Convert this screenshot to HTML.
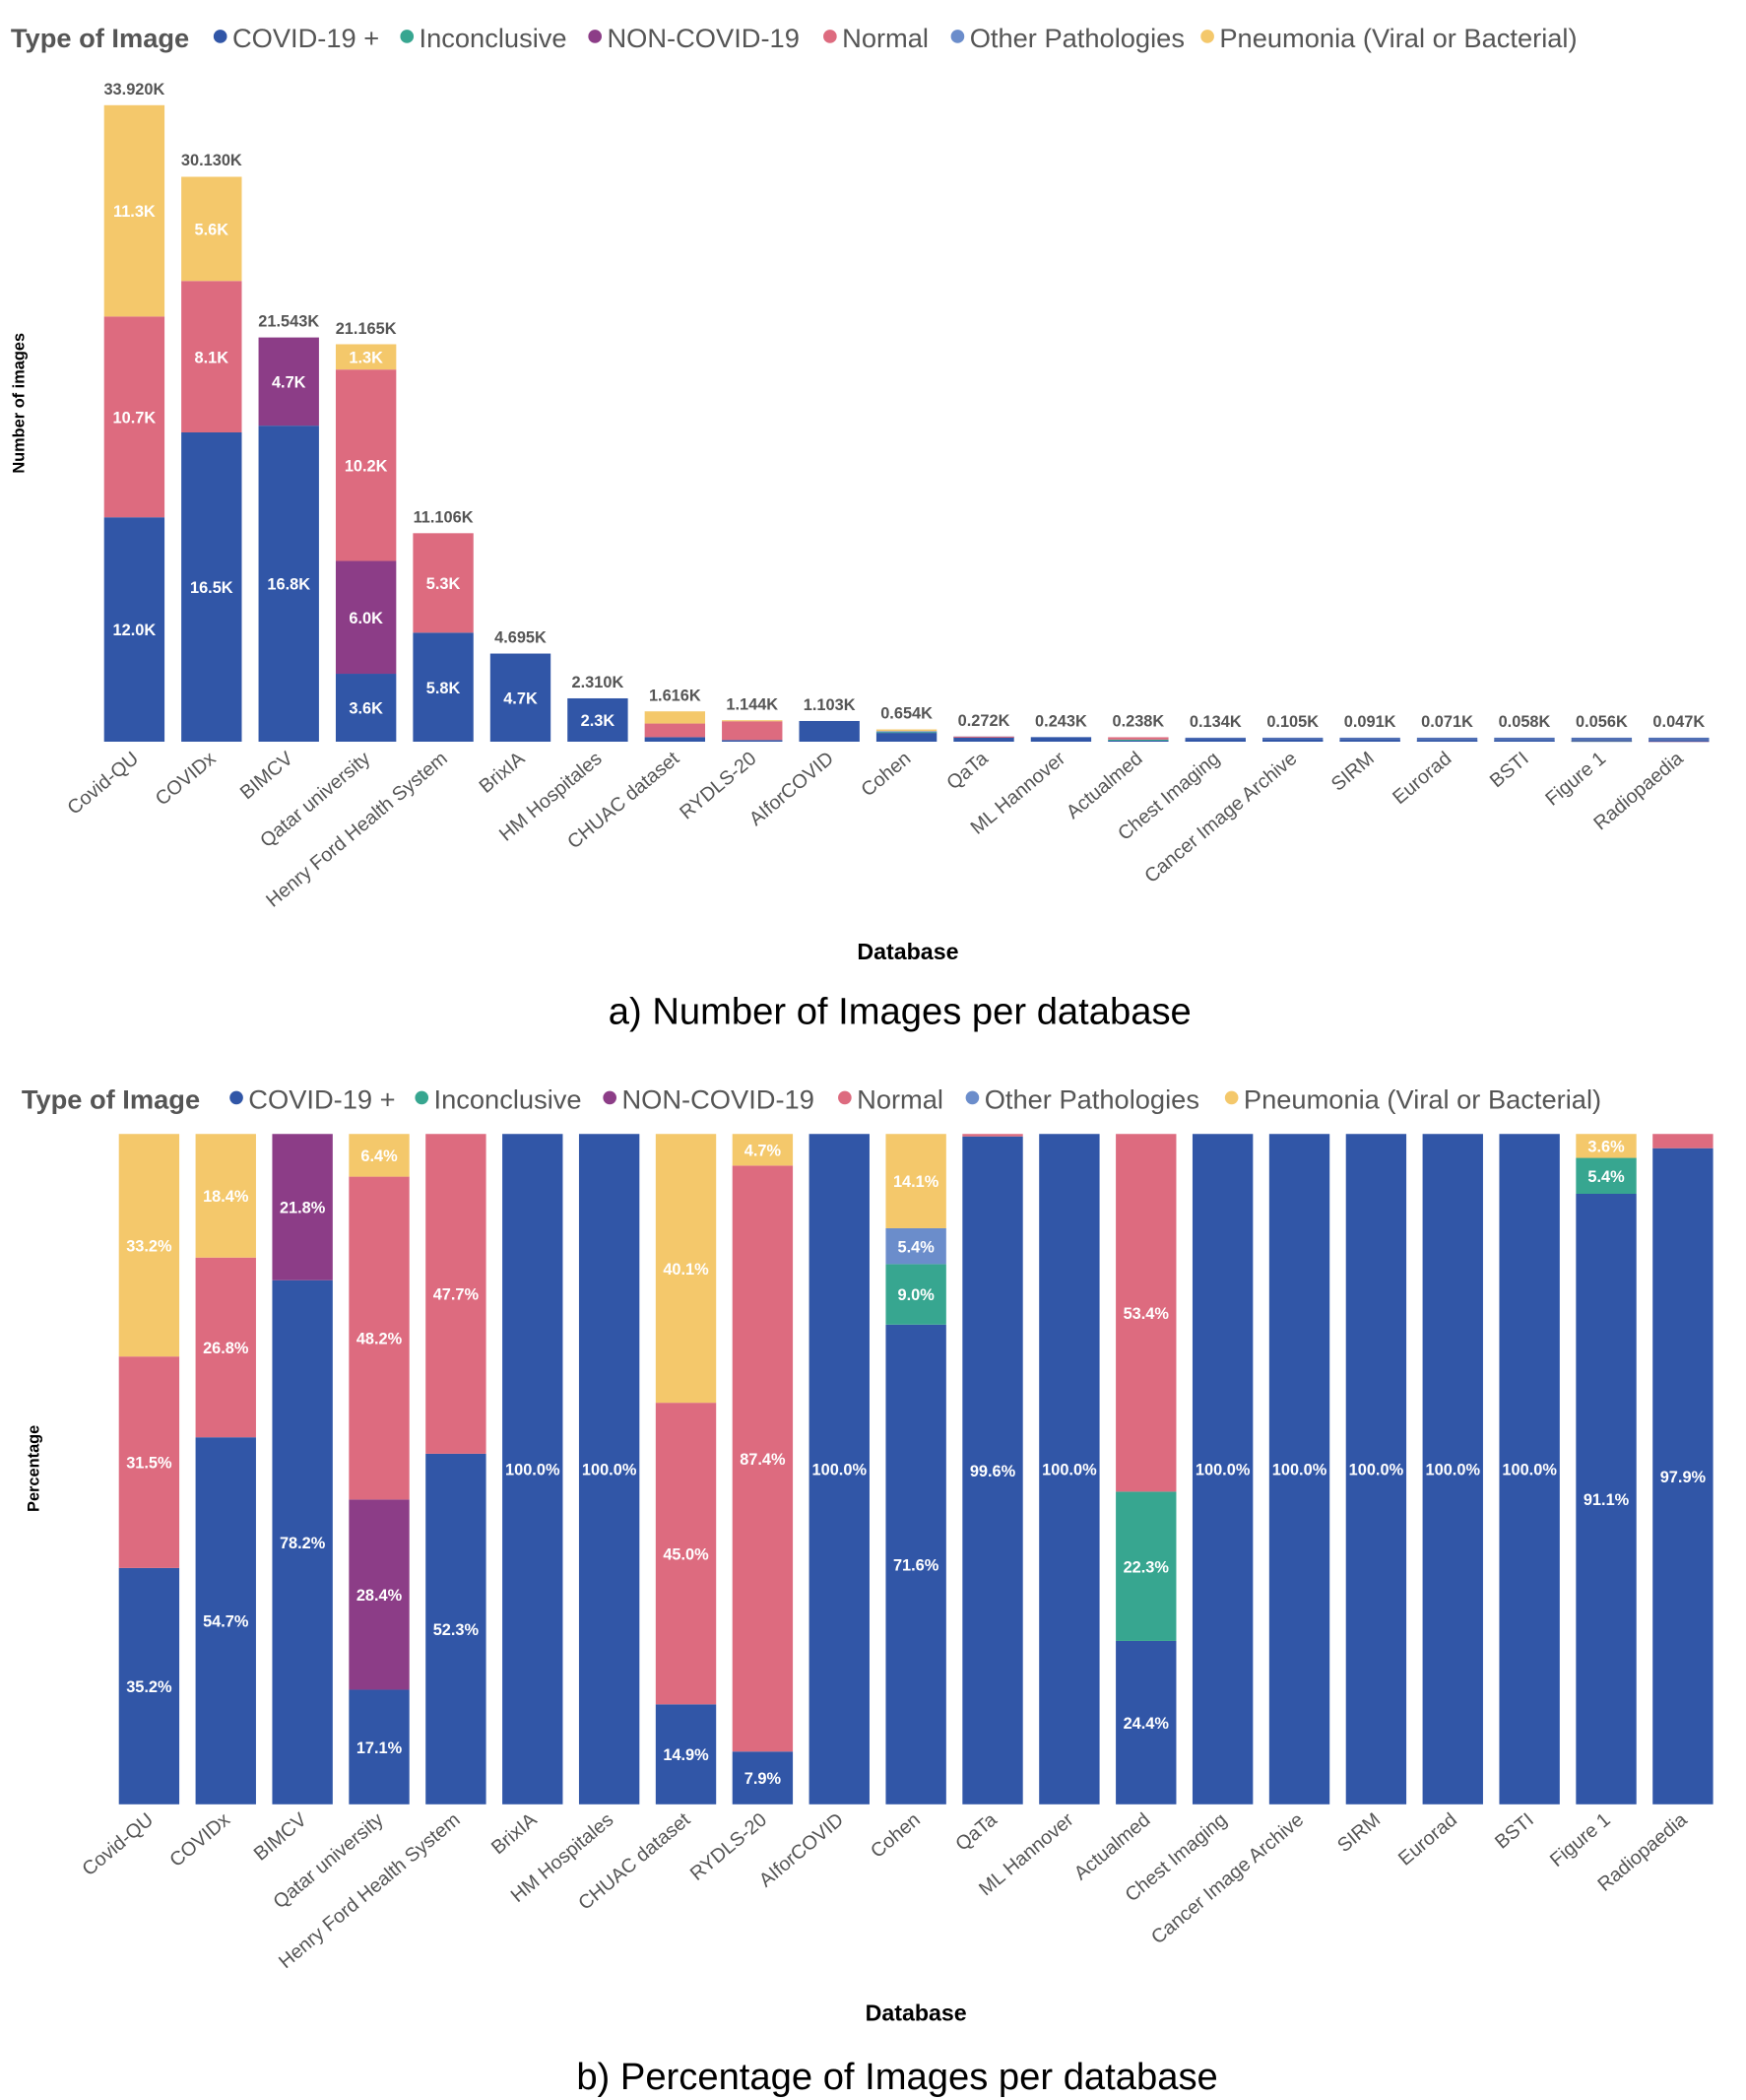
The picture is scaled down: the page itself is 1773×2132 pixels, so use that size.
<!DOCTYPE html>
<html><head><meta charset="utf-8">
<style>
html,body{margin:0;padding:0;background:#fff;}
svg{display:block;font-family:"Liberation Sans",sans-serif;}
</style></head>
<body>
<svg id="root" width="1773" height="2132" viewBox="0 0 1300 1563" xmlns="http://www.w3.org/2000/svg">
<g id="legendA"></g>
<g id="chartA"></g>
<text transform="translate(18,300) rotate(-90)" text-anchor="middle" font-size="12" font-weight="bold" fill="#000">Number of images</text>
<text x="676" y="714" text-anchor="middle" font-size="17" font-weight="bold" fill="#000">Database</text>
<text x="670" y="762" text-anchor="middle" font-size="28" fill="#000">a) Number of Images per database</text>
<g id="legendB"></g>
<g id="chartB"></g>
<text transform="translate(29,1093) rotate(-90)" text-anchor="middle" font-size="12" font-weight="bold" fill="#000">Percentage</text>
<text x="682" y="1504" text-anchor="middle" font-size="17" font-weight="bold" fill="#000">Database</text>
<text x="668" y="1555" text-anchor="middle" font-size="28" fill="#000">b) Percentage of Images per database</text>
</svg>
<script>
const categories = ["Covid-QU","COVIDx","BIMCV","Qatar university","Henry Ford Health System","BrixIA","HM Hospitales","CHUAC dataset","RYDLS-20","AIforCOVID","Cohen","QaTa","ML Hannover","Actualmed","Chest Imaging","Cancer Image Archive","SIRM","Eurorad","BSTI","Figure 1","Radiopaedia"];
const seriesNames = ["COVID-19 +","Inconclusive","NON-COVID-19","Normal","Other Pathologies","Pneumonia (Viral or Bacterial)"];
const seriesColors = ["#3156A7","#37A690","#8C3D87","#DD6B7F","#6B8DCB","#F4C86B"];
// values in thousands of images
const covid      = [11.956,16.48,16.84,3.62,5.81,4.695,2.310,0.241,0.090,1.103,0.468,0.271,0.243,0.058,0.134,0.105,0.091,0.071,0.058,0.051,0.046];
const inconcl    = [0,0,0,0,0,0,0,0,0,0,0.059,0,0,0.053,0,0,0,0,0,0.003,0];
const noncovid   = [0,0,4.70,6.01,0,0,0,0,0,0,0,0,0,0,0,0,0,0,0,0,0];
const normal     = [10.70,8.07,0,10.20,5.30,0,0,0.727,1.000,0,0,0.001,0,0.127,0,0,0,0,0,0,0.001];
const other      = [0,0,0,0,0,0,0,0,0,0,0.035,0,0,0,0,0,0,0,0,0,0];
const pneumonia  = [11.26,5.551,0,1.349,0,0,0,0.648,0.054,0,0.092,0,0,0,0,0,0,0,0,0.002,0];
const totals     = [33.920,30.130,21.543,21.165,11.106,4.695,2.310,1.616,1.144,1.103,0.654,0.272,0.243,0.238,0.134,0.105,0.091,0.071,0.058,0.056,0.047];
const series = [covid,inconcl,noncovid,normal,other,pneumonia];

const NS="http://www.w3.org/2000/svg";
function mk(tag,attrs,parent){const e=document.createElementNS(NS,tag);for(const k in attrs)e.setAttribute(k,attrs[k]);parent.appendChild(e);return e;}

function legend(g,x0,y,xs){
  const t=mk("text",{x:x0,y:y+7,"font-size":"20","font-weight":"bold",fill:"#555"},g);
  t.textContent="Type of Image";
  
  
  seriesNames.forEach((n,i)=>{
    const it=mk("g",{},g);
    
    
    mk("circle",{cx:xs[i],cy:y-1,r:5,fill:seriesColors[i]},it);
    const tx=mk("text",{x:xs[i]+9,y:y+7,"font-size":"20",fill:"#555"},it);
    tx.textContent=n;
  });
}
legend(document.getElementById("legendA"),8,28,[164,303,443,618,713,899]);
legend(document.getElementById("legendB"),16,818,[176,314,454,629,724,917]);

// Chart A
const gA=document.getElementById("chartA");
const aX0=100, aStep=57.5, bw=45, aBase=552, aPxPerK=13.97;
const yA=v=>aBase - v*aPxPerK;
categories.forEach((c,i)=>{
  const cx=aX0+i*aStep;
  let acc=0;
  const bg=mk("g",{},gA);
  
  
  series.forEach((s,k)=>{
    const v=s[i]; if(v<=0) return;
    let y1=yA(acc), y2=yA(acc+v); acc+=v;
    let h=y1-y2;
    mk("rect",{x:cx-bw/2,y:y2,width:bw,height:Math.max(h,0.8),fill:seriesColors[k]},bg);
    if(h>=17){
      const t=mk("text",{x:cx,y:(y1+y2)/2+4.5,"text-anchor":"middle","font-size":"12","font-weight":"bold",fill:"#fff"},bg);
      t.textContent=v.toFixed(1)+"K";
    }
  });
  const top=Math.min(yA(totals[i]),aBase-3);
  if(yA(totals[i])>aBase-3) mk("rect",{x:cx-bw/2,y:aBase-3,width:bw,height:3,fill:"#3156A7",opacity:0.85},bg);
  const tl=mk("text",{x:cx,y:top-8,"text-anchor":"middle","font-size":"12","font-weight":"bold",fill:"#555"},bg);
  tl.textContent=totals[i].toFixed(3)+"K";
  const xl=mk("text",{transform:`translate(${cx+4},${aBase+14}) rotate(-40)`,"text-anchor":"end","font-size":"14.5",fill:"#555"},gA);
  xl.textContent=c;
  
  
});

// Chart B
const gB=document.getElementById("chartB");
const bX0=111, bStep=57.1, bTop=844, bBase=1343;
const yB=p=>bBase-(bBase-bTop)*p/100;
categories.forEach((c,i)=>{
  const cx=bX0+i*bStep;
  let sum=0; series.forEach(s=>sum+=s[i]);
  let acc=0;
  const bg=mk("g",{},gB);
  
  
  series.forEach((s,k)=>{
    const v=s[i]; if(v<=0) return;
    const p=v/sum*100;
    const y1=yB(acc), y2=yB(acc+p); acc+=p;
    const h=y1-y2;
    mk("rect",{x:cx-bw/2,y:y2,width:bw,height:Math.max(h,0.8),fill:seriesColors[k]},bg);
    if(h>=15){
      const t=mk("text",{x:cx,y:(y1+y2)/2+4.5,"text-anchor":"middle","font-size":"12","font-weight":"bold",fill:"#fff"},bg);
      t.textContent=Math.min(100,v/totals[i]*100).toFixed(1)+"%";
    }
  });
  const xl=mk("text",{transform:`translate(${cx+4},${bBase+13}) rotate(-40)`,"text-anchor":"end","font-size":"14.5",fill:"#555"},gB);
  xl.textContent=c;
  
  
});
</script>
</body></html>
